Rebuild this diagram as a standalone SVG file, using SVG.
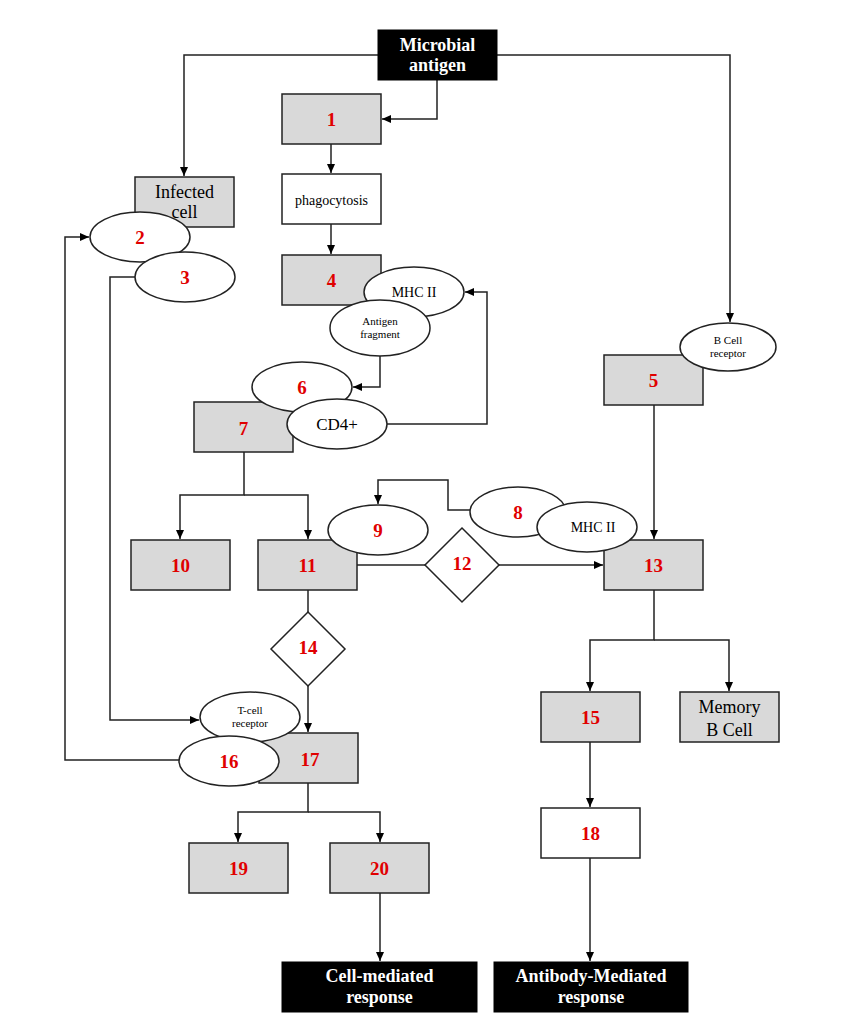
<svg xmlns="http://www.w3.org/2000/svg" width="855" height="1024" viewBox="0 0 855 1024">
<defs>
<marker id="ah" markerWidth="10" markerHeight="10" refX="9" refY="5" orient="auto" markerUnits="userSpaceOnUse"><path d="M0,1 L9,5 L0,9 Z" fill="#000"/></marker>
<style>
.g{fill:#d9d9d9;stroke:#222;stroke-width:1.5}
.w{fill:#fff;stroke:#222;stroke-width:1.5}
.k{fill:#000;stroke:#000}
.n{font-family:"Liberation Serif",serif;font-weight:bold;font-size:19px;fill:#e00000;text-anchor:middle}
.t{font-family:"Liberation Serif",serif;fill:#000;text-anchor:middle}
.b{font-family:"Liberation Serif",serif;font-weight:bold;font-size:18px;fill:#fff;text-anchor:middle}
.c{fill:none;stroke:#222;stroke-width:1.5}
</style>
</defs>
<rect width="855" height="1024" fill="#fff"/>
<g id="connectors">
<path class="c" d="M378,55 H184 V176" marker-end="url(#ah)"/>
<path class="c" d="M437,80 V119 H382" marker-end="url(#ah)"/>
<path class="c" d="M497,55 H730 V322" marker-end="url(#ah)"/>
<path class="c" d="M331,144 V173" marker-end="url(#ah)"/>
<path class="c" d="M331,224 V254" marker-end="url(#ah)"/>
<path class="c" d="M380,356 V387 H353" marker-end="url(#ah)"/>
<path class="c" d="M387,424 H487 V292 H465" marker-end="url(#ah)"/>
<path class="c" d="M244,452 V495 H180 V539" marker-end="url(#ah)"/>
<path class="c" d="M244,495 H308 V539" marker-end="url(#ah)"/>
<path class="c" d="M470,510 H448 V480 H378 V504" marker-end="url(#ah)"/>
<path class="c" d="M357,565 H425"/>
<path class="c" d="M499,565 H603" marker-end="url(#ah)"/>
<path class="c" d="M654,405 V539" marker-end="url(#ah)"/>
<path class="c" d="M308,590 V612"/>
<path class="c" d="M308,686 V732" marker-end="url(#ah)"/>
<path class="c" d="M135,277 H110 V720 H199" marker-end="url(#ah)"/>
<path class="c" d="M179,760 H65 V237 H89" marker-end="url(#ah)"/>
<path class="c" d="M308,783 V812 H238 V842" marker-end="url(#ah)"/>
<path class="c" d="M308,812 H380 V842" marker-end="url(#ah)"/>
<path class="c" d="M380,893 V961" marker-end="url(#ah)"/>
<path class="c" d="M654,590 V640 H590 V691" marker-end="url(#ah)"/>
<path class="c" d="M654,640 H729 V691" marker-end="url(#ah)"/>
<path class="c" d="M590,742 V807" marker-end="url(#ah)"/>
<path class="c" d="M590,858 V961" marker-end="url(#ah)"/>
</g>
<g id="microbial"><rect class="k" x="378" y="30" width="119" height="50"/><text class="b" x="437.5" y="51">Microbial</text><text class="b" x="437.5" y="71">antigen</text></g>
<g id="n1"><rect class="g" x="282" y="94" width="99" height="50"/><text class="n" x="331.5" y="126">1</text></g>
<g id="phago"><rect class="w" x="282" y="174" width="99" height="50"/><text class="t" x="331.5" y="205" font-size="14">phagocytosis</text></g>
<g id="infected"><rect class="g" x="135" y="177" width="99" height="50"/><text class="t" x="184.5" y="198" font-size="18">Infected</text><text class="t" x="184.5" y="218" font-size="18">cell</text></g>
<g id="n2"><ellipse class="w" cx="140" cy="237" rx="50" ry="25"/><text class="n" x="140" y="244">2</text></g>
<g id="n3"><ellipse class="w" cx="185" cy="277" rx="50" ry="25"/><text class="n" x="185" y="284">3</text></g>
<g id="n4"><rect class="g" x="282" y="255" width="99" height="50"/><text class="n" x="331.5" y="287">4</text></g>
<g id="mhc1"><ellipse class="w" cx="414" cy="292" rx="50" ry="25"/><text class="t" x="414" y="297" font-size="14">MHC  II</text></g>
<g id="antigenfrag"><ellipse class="w" cx="380" cy="328" rx="50" ry="28"/><text class="t" x="380" y="325" font-size="11">Antigen</text><text class="t" x="380" y="338" font-size="11">fragment</text></g>
<g id="n7"><rect class="g" x="194" y="402" width="99" height="50"/><text class="n" x="243.5" y="435">7</text></g>
<g id="n6"><ellipse class="w" cx="302" cy="387" rx="50" ry="25"/><text class="n" x="302" y="394">6</text></g>
<g id="cd4"><ellipse class="w" cx="337" cy="424" rx="50" ry="25"/><text class="t" x="337" y="430" font-size="17">CD4+</text></g>
<g id="n5"><rect class="g" x="604" y="355" width="99" height="50"/><text class="n" x="653.5" y="387">5</text></g>
<g id="bcr"><ellipse class="w" cx="728" cy="347" rx="48" ry="24"/><text class="t" x="728" y="344" font-size="11">B Cell</text><text class="t" x="728" y="357" font-size="11">receptor</text></g>
<g id="n10"><rect class="g" x="131" y="540" width="99" height="50"/><text class="n" x="180.5" y="572">10</text></g>
<g id="n11"><rect class="g" x="258" y="540" width="99" height="50"/><text class="n" x="307.5" y="572">11</text></g>
<g id="n9"><ellipse class="w" cx="378" cy="530" rx="50" ry="25"/><text class="n" x="378" y="537">9</text></g>
<g id="n13"><rect class="g" x="604" y="540" width="99" height="50"/><text class="n" x="653.5" y="572">13</text></g>
<g id="n8"><ellipse class="w" cx="518" cy="512" rx="48" ry="25"/><text class="n" x="518" y="519">8</text></g>
<g id="mhc2"><ellipse class="w" cx="587" cy="527" rx="50" ry="25"/><text class="t" x="593" y="532" font-size="14">MHC  II</text></g>
<g id="n12"><path class="w" d="M462,528 L499,565 L462,602 L425,565 Z"/><text class="n" x="462" y="570" font-size="15">12</text></g>
<g id="n14"><path class="w" d="M308,612 L345,649 L308,686 L271,649 Z"/><text class="n" x="308" y="654" font-size="15">14</text></g>
<g id="n17"><rect class="g" x="259" y="733" width="99" height="50"/><text class="n" x="310" y="766">17</text></g>
<g id="tcr"><ellipse class="w" cx="250" cy="717" rx="50" ry="25"/><text class="t" x="250" y="714" font-size="11">T-cell</text><text class="t" x="250" y="727" font-size="11">receptor</text></g>
<g id="n16"><ellipse class="w" cx="229" cy="761" rx="50" ry="25"/><text class="n" x="229" y="768">16</text></g>
<g id="n15"><rect class="g" x="541" y="692" width="99" height="50"/><text class="n" x="590.5" y="724">15</text></g>
<g id="memb"><rect class="g" x="680" y="692" width="99" height="50"/><text class="t" x="729.5" y="713" font-size="18">Memory</text><text class="t" x="729.5" y="736" font-size="18">B Cell</text></g>
<g id="n18"><rect class="w" x="541" y="808" width="99" height="50"/><text class="n" x="590.5" y="840">18</text></g>
<g id="n19"><rect class="g" x="189" y="843" width="99" height="50"/><text class="n" x="238.5" y="875">19</text></g>
<g id="n20"><rect class="g" x="330" y="843" width="99" height="50"/><text class="n" x="379.5" y="875">20</text></g>
<g id="cellmed"><rect class="k" x="282" y="962" width="195" height="50"/><text class="b" x="379.5" y="982">Cell-mediated</text><text class="b" x="379.5" y="1003">response</text></g>
<g id="antimed"><rect class="k" x="494" y="962" width="194" height="50"/><text class="b" x="591" y="982">Antibody-Mediated</text><text class="b" x="591" y="1003">response</text></g>
</svg>
